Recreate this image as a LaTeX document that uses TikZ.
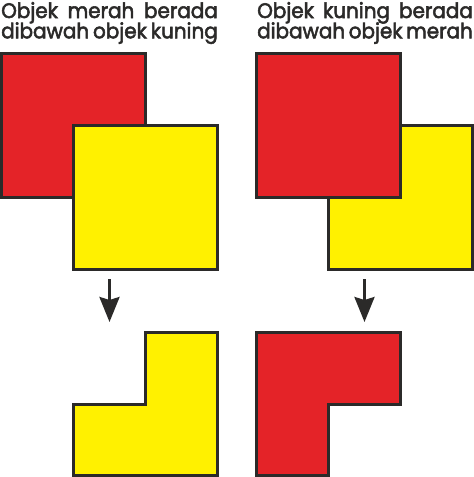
\documentclass[tikz,border=0pt]{standalone}
\usepackage{fontspec}
\setmainfont{Poppins}[UprightFeatures={FakeBold=2.6}]
\usetikzlibrary{arrows.meta}
\definecolor{redfill}{HTML}{E42328}
\definecolor{yelfill}{HTML}{FFF100}
\definecolor{ink}{HTML}{2B2A29}
\newcommand{\capline}[2]{\scalebox{0.95}[1]{\makebox[#1][s]{#2}}}
\tikzset{
  pieceline/.style={draw=ink, line width=3pt, line join=miter},
  redshape/.style={pieceline, fill=redfill},
  yelshape/.style={pieceline, fill=yelfill},
  downarrow/.style={draw=ink, line width=3pt, -{Stealth[length=25pt,width=20pt,inset=3pt]}},
  caption/.style={anchor=base west, inner sep=0pt, font=\fontsize{21}{24}\selectfont, text=ink}
}
\begin{document}
\begin{tikzpicture}[x=1pt,y=-1pt]
\useasboundingbox (0,0) rectangle (474,477);
% captions
\node[caption] (l1) at (1,18) {\capline{228pt}{Objek merah berada}};
\node[caption] (l2) at (1,38.3) {\capline{228pt}{dibawah objek kuning}};
\node[caption] (r1) at (257,18) {\capline{227pt}{Objek kuning berada}};
\node[caption] (r2) at (257,38.3) {\capline{227pt}{dibawah objek merah}};
% left top: red below yellow
\draw[redshape] (1.5,53) rectangle (145.5,197);
\draw[yelshape] (73.5,125) rectangle (217.5,269);
% right top: yellow below red
\draw[yelshape] (328.5,125) rectangle (472.5,269);
\draw[redshape] (256.5,53) rectangle (400.5,197);
% arrows
\coordinate (la) at (109.5,279);
\coordinate (lb) at (109.5,322);
\coordinate (ra) at (364.5,279);
\coordinate (rb) at (364.5,322);
\draw[downarrow] (la) -- (lb);
\draw[downarrow] (ra) -- (rb);
% bottom results
\draw[yelshape] (73.5,404) -- (145.5,404) -- (145.5,332) -- (217.5,332) -- (217.5,475.5) -- (73.5,475.5) -- cycle;
\draw[redshape] (256.5,332) -- (400.5,332) -- (400.5,404) -- (328.5,404) -- (328.5,475.5) -- (256.5,475.5) -- cycle;
\end{tikzpicture}
\end{document}
